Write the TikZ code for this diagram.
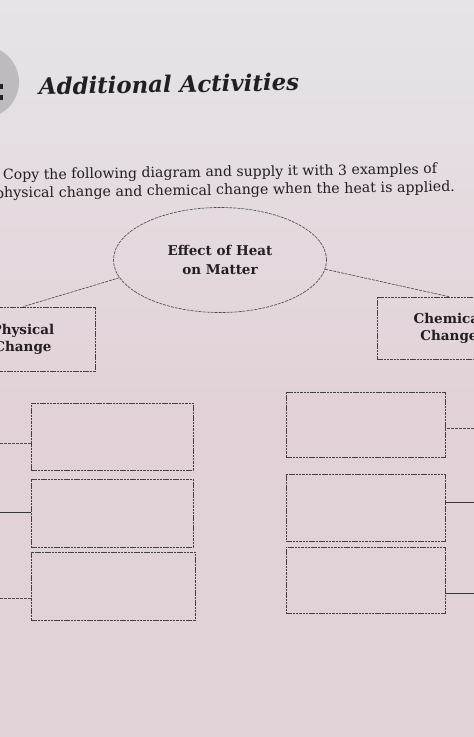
\documentclass[tikz,border=0pt]{standalone}
\usepackage{fontspec}
\usepackage{graphicx}
\setmainfont{DejaVu Serif}
\usetikzlibrary{shapes.geometric}
\definecolor{ink}{RGB}{34,30,34}
\definecolor{bgtop}{RGB}{230,228,231}
\definecolor{bgmid}{RGB}{226,210,216}
\definecolor{bgbot}{RGB}{224,210,215}
\definecolor{stip}{RGB}{190,187,191}
\begin{document}
\begin{tikzpicture}[x=1pt,y=-1pt,
  dbox/.style={rectangle, draw=ink!85, dash pattern=on 2.5pt off 0.8pt, line width=0.65pt, inner sep=0pt},
  conn/.style={draw=ink!80, dash pattern=on 3pt off 1pt, line width=0.65pt},
  solidln/.style={draw=ink!90, line width=0.8pt},
  lbl/.style={font=\bfseries\fontsize{13.5}{17}\selectfont, text=ink, align=center},
  txt/.style={text=ink, inner sep=0pt}]
\useasboundingbox (0,0) rectangle (474,737);
\clip (0,0) rectangle (474,737);
\shade[top color=bgtop, bottom color=bgmid] (0,0) rectangle (474,400);
\shade[top color=bgmid, bottom color=bgbot] (0,400) rectangle (474,737);
% decoration at top left
\fill[stip] (-17,82) circle (36);
\fill[ink] (0,84) rectangle (3,89);
\fill[ink] (0,95) rectangle (3,100);
% texts
\node[txt, rotate=1] (title) at (169,84) {\resizebox{260pt}{!}{\bfseries\itshape Additional Activities}};
\node[txt, rotate=0.8] (instr1) at (220,173) {\resizebox{434pt}{!}{Copy the following diagram and supply it with 3 examples of}};
\node[txt, rotate=0.8] (instr2) at (225,191) {\resizebox{460pt}{!}{physical change and chemical change when the heat is applied.}};
% main ellipse
\node[ellipse, conn, minimum width=213pt, minimum height=105pt, inner sep=0pt,
      font=\bfseries\fontsize{13.5}{19}\selectfont, text=ink, align=center] (heat) at (220,260) {Effect of Heat\\on Matter};
% category boxes
\node[dbox, lbl, minimum width=144pt, minimum height=64pt] (phys) at (23,339) {Physical\\Change};
\node[dbox, lbl, minimum width=144pt, minimum height=62pt] (chem) at (449,328) {Chemical\\Change};
\draw[conn] (heat.190) -- (phys.north);
\draw[conn] (heat.-5) -- (chem.north);
% example boxes
\node[dbox, minimum width=162pt, minimum height=67pt] (l1) at (112,436.5) {};
\node[dbox, minimum width=162pt, minimum height=68pt] (l2) at (112,513) {};
\node[dbox, minimum width=164pt, minimum height=68pt] (l3) at (113,586) {};
\node[dbox, minimum width=159pt, minimum height=65pt] (r1) at (365.5,424.5) {};
\node[dbox, minimum width=159pt, minimum height=67pt] (r2) at (365.5,507.5) {};
\node[dbox, minimum width=159pt, minimum height=66pt] (r3) at (365.5,580) {};
% stubs toward the off-page brackets
\coordinate (la) at (0,443);
\coordinate (lb) at (0,512);
\coordinate (lc) at (0,598);
\coordinate (ra) at (474,428);
\coordinate (rb) at (474,502);
\coordinate (rc) at (474,593);
\draw[conn] (la) -- (l1.west |- la);
\draw[solidln] (lb) -- (l2.west |- lb);
\draw[conn] (lc) -- (l3.west |- lc);
\draw[conn] (ra) -- (r1.east |- ra);
\draw[solidln] (rb) -- (r2.east |- rb);
\draw[solidln] (rc) -- (r3.east |- rc);
\end{tikzpicture}
\end{document}
